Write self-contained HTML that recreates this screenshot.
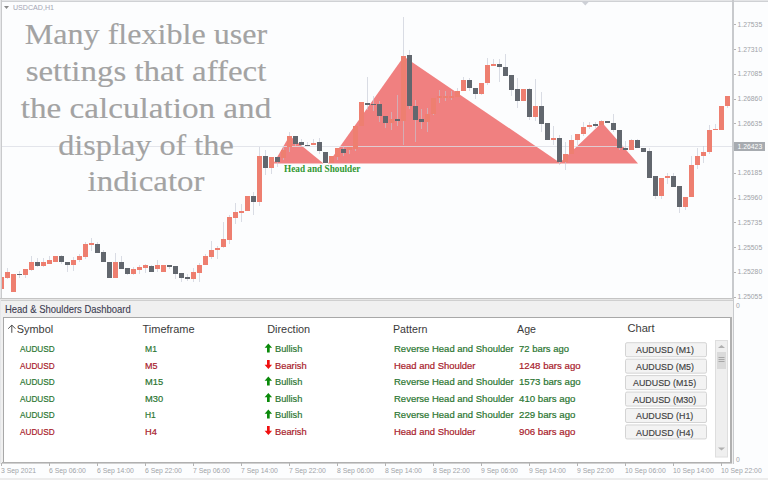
<!DOCTYPE html>
<html><head><meta charset="utf-8"><style>
*{margin:0;padding:0;box-sizing:border-box}
body{width:768px;height:480px;overflow:hidden;background:#fcfdfe;position:relative;font-family:"Liberation Sans",sans-serif}
.t{position:absolute;white-space:nowrap}
.bs{font-family:"Liberation Serif",serif !important;font-size:30px !important;line-height:30px !important;-webkit-text-stroke:0.15px #a3a3a3}
.big{left:0;width:292px;text-align:center;font-family:"Liberation Sans",sans-serif;font-size:29.5px;line-height:29.5px;color:#a3a3a3;transform:scaleX(1.017);transform-origin:146px 0}
</style></head><body>
<svg style="position:absolute;left:0;top:0" width="768" height="480">
<rect x="0" y="0" width="768" height="2" fill="#e4e5e7"/><rect x="0" y="1" width="768" height="1" fill="#cfd1d4"/>
<rect x="0" y="0" width="1" height="464" fill="#e6e7e9"/><rect x="1" y="0" width="1" height="464" fill="#c9cacc"/>
<rect x="732" y="0" width="2" height="464" fill="#c8cacd"/>
<polygon points="273.5,163.4 289.5,135.7 323.5,163.4" fill="#f08080"/>
<polygon points="328,163.4 403.8,56.5 561,163.4" fill="#f08080"/>
<polygon points="559,163.4 602,122.5 638,163.4" fill="#f08080"/>
<rect x="2" y="146" width="730" height="1" fill="#dcdfe6" opacity="0.8"/>
<rect x="2" y="277" width="2" height="12" fill="#ee7f70"/>
<rect x="7" y="268" width="1" height="11" fill="#c4c8d4" fill-opacity="0.62"/>
<rect x="5" y="272" width="5" height="6" fill="#ee7f70"/>
<rect x="13" y="274" width="1" height="18" fill="#c4c8d4" fill-opacity="0.62"/>
<rect x="11" y="274" width="5" height="18" fill="#ee7f70"/>
<rect x="19" y="271" width="1" height="7" fill="#c4c8d4" fill-opacity="0.62"/>
<rect x="17" y="274" width="5" height="1" fill="#62676e"/>
<rect x="25" y="269" width="1" height="9" fill="#c4c8d4" fill-opacity="0.62"/>
<rect x="23" y="269" width="5" height="6" fill="#ee7f70"/>
<rect x="31" y="256" width="1" height="15" fill="#c4c8d4" fill-opacity="0.62"/>
<rect x="29" y="262" width="5" height="8" fill="#ee7f70"/>
<rect x="37" y="258" width="1" height="9" fill="#c4c8d4" fill-opacity="0.62"/>
<rect x="35" y="262" width="5" height="4" fill="#62676e"/>
<rect x="43" y="258" width="1" height="9" fill="#c4c8d4" fill-opacity="0.62"/>
<rect x="41" y="262" width="5" height="4" fill="#ee7f70"/>
<rect x="49" y="256" width="1" height="8" fill="#c4c8d4" fill-opacity="0.62"/>
<rect x="47" y="260" width="5" height="4" fill="#ee7f70"/>
<rect x="55" y="256" width="1" height="6" fill="#c4c8d4" fill-opacity="0.62"/>
<rect x="53" y="256" width="5" height="6" fill="#ee7f70"/>
<rect x="61" y="255" width="1" height="9" fill="#c4c8d4" fill-opacity="0.62"/>
<rect x="59" y="256" width="5" height="6" fill="#62676e"/>
<rect x="67" y="262" width="1" height="10" fill="#c4c8d4" fill-opacity="0.62"/>
<rect x="65" y="262" width="5" height="3" fill="#62676e"/>
<rect x="73" y="257" width="1" height="14" fill="#c4c8d4" fill-opacity="0.62"/>
<rect x="71" y="260" width="5" height="5" fill="#ee7f70"/>
<rect x="79" y="254" width="1" height="8" fill="#c4c8d4" fill-opacity="0.62"/>
<rect x="77" y="256" width="5" height="4" fill="#ee7f70"/>
<rect x="85" y="242" width="1" height="17" fill="#c4c8d4" fill-opacity="0.62"/>
<rect x="83" y="244" width="5" height="13" fill="#ee7f70"/>
<rect x="91" y="238" width="1" height="13" fill="#c4c8d4" fill-opacity="0.62"/>
<rect x="89" y="243" width="5" height="2" fill="#ee7f70"/>
<rect x="97" y="242" width="1" height="11" fill="#c4c8d4" fill-opacity="0.62"/>
<rect x="95" y="244" width="5" height="9" fill="#62676e"/>
<rect x="103" y="250" width="1" height="12" fill="#c4c8d4" fill-opacity="0.62"/>
<rect x="101" y="252" width="5" height="10" fill="#62676e"/>
<rect x="109" y="262" width="1" height="16" fill="#c4c8d4" fill-opacity="0.62"/>
<rect x="107" y="262" width="5" height="16" fill="#62676e"/>
<rect x="115" y="253" width="1" height="25" fill="#c4c8d4" fill-opacity="0.62"/>
<rect x="113" y="262" width="5" height="16" fill="#ee7f70"/>
<rect x="121" y="256" width="1" height="13" fill="#c4c8d4" fill-opacity="0.62"/>
<rect x="119" y="262" width="5" height="7" fill="#62676e"/>
<rect x="127" y="268" width="1" height="7" fill="#c4c8d4" fill-opacity="0.62"/>
<rect x="125" y="268" width="5" height="6" fill="#62676e"/>
<rect x="133" y="267" width="1" height="8" fill="#c4c8d4" fill-opacity="0.62"/>
<rect x="131" y="269" width="5" height="5" fill="#ee7f70"/>
<rect x="139" y="265" width="1" height="9" fill="#c4c8d4" fill-opacity="0.62"/>
<rect x="137" y="267" width="5" height="3" fill="#ee7f70"/>
<rect x="145" y="264" width="1" height="9" fill="#c4c8d4" fill-opacity="0.62"/>
<rect x="143" y="265" width="5" height="3" fill="#ee7f70"/>
<rect x="151" y="265" width="1" height="7" fill="#c4c8d4" fill-opacity="0.62"/>
<rect x="149" y="266" width="5" height="6" fill="#62676e"/>
<rect x="157" y="260" width="1" height="12" fill="#c4c8d4" fill-opacity="0.62"/>
<rect x="155" y="265" width="5" height="4" fill="#ee7f70"/>
<rect x="163" y="265" width="1" height="7" fill="#c4c8d4" fill-opacity="0.62"/>
<rect x="161" y="265" width="5" height="7" fill="#ee7f70"/>
<rect x="169" y="265" width="1" height="4" fill="#c4c8d4" fill-opacity="0.62"/>
<rect x="167" y="265" width="5" height="2" fill="#62676e"/>
<rect x="175" y="266" width="1" height="13" fill="#c4c8d4" fill-opacity="0.62"/>
<rect x="173" y="266" width="5" height="8" fill="#62676e"/>
<rect x="181" y="273" width="1" height="9" fill="#c4c8d4" fill-opacity="0.62"/>
<rect x="179" y="273" width="5" height="5" fill="#62676e"/>
<rect x="187" y="274" width="1" height="7" fill="#c4c8d4" fill-opacity="0.62"/>
<rect x="185" y="277" width="5" height="2" fill="#62676e"/>
<rect x="193" y="268" width="1" height="14" fill="#c4c8d4" fill-opacity="0.62"/>
<rect x="191" y="272" width="5" height="7" fill="#ee7f70"/>
<rect x="199" y="263" width="1" height="19" fill="#c4c8d4" fill-opacity="0.62"/>
<rect x="197" y="265" width="5" height="8" fill="#ee7f70"/>
<rect x="205" y="254" width="1" height="11" fill="#c4c8d4" fill-opacity="0.62"/>
<rect x="203" y="256" width="5" height="9" fill="#ee7f70"/>
<rect x="211" y="241" width="1" height="18" fill="#c4c8d4" fill-opacity="0.62"/>
<rect x="209" y="250" width="5" height="7" fill="#ee7f70"/>
<rect x="217" y="246" width="1" height="13" fill="#c4c8d4" fill-opacity="0.62"/>
<rect x="215" y="248" width="5" height="2" fill="#ee7f70"/>
<rect x="223" y="222" width="1" height="26" fill="#c4c8d4" fill-opacity="0.62"/>
<rect x="221" y="239" width="5" height="8" fill="#ee7f70"/>
<rect x="229" y="215" width="1" height="29" fill="#c4c8d4" fill-opacity="0.62"/>
<rect x="227" y="217" width="5" height="23" fill="#ee7f70"/>
<rect x="235" y="203" width="1" height="21" fill="#c4c8d4" fill-opacity="0.62"/>
<rect x="233" y="212" width="5" height="6" fill="#ee7f70"/>
<rect x="241" y="204" width="1" height="18" fill="#c4c8d4" fill-opacity="0.62"/>
<rect x="239" y="211" width="5" height="2" fill="#ee7f70"/>
<rect x="247" y="196" width="1" height="15" fill="#c4c8d4" fill-opacity="0.62"/>
<rect x="245" y="196" width="5" height="15" fill="#ee7f70"/>
<rect x="253" y="192" width="1" height="23" fill="#c4c8d4" fill-opacity="0.62"/>
<rect x="251" y="196" width="5" height="6" fill="#62676e"/>
<rect x="259" y="147" width="1" height="59" fill="#c4c8d4" fill-opacity="0.62"/>
<rect x="257" y="156" width="5" height="46" fill="#ee7f70"/>
<rect x="265" y="150" width="1" height="25" fill="#c4c8d4" fill-opacity="0.62"/>
<rect x="263" y="156" width="5" height="12" fill="#62676e"/>
<rect x="271" y="157" width="1" height="17" fill="#c4c8d4" fill-opacity="0.62"/>
<rect x="269" y="157" width="5" height="11" fill="#ee7f70"/>
<rect x="277" y="157" width="1" height="10" fill="#c4c8d4" fill-opacity="0.62"/>
<rect x="275" y="157" width="5" height="5" fill="#62676e"/>
<rect x="283" y="146" width="1" height="14" fill="#c4c8d4" fill-opacity="0.62"/>
<rect x="281" y="150" width="5" height="8" fill="#ee7f70"/>
<rect x="289" y="132" width="1" height="20" fill="#c4c8d4" fill-opacity="0.62"/>
<rect x="287" y="136" width="5" height="11" fill="#ee7f70"/>
<rect x="295" y="136" width="1" height="10" fill="#c4c8d4" fill-opacity="0.62"/>
<rect x="293" y="136" width="5" height="8" fill="#62676e"/>
<rect x="301" y="139" width="1" height="8" fill="#c4c8d4" fill-opacity="0.62"/>
<rect x="299" y="142" width="5" height="3" fill="#62676e"/>
<rect x="307" y="142" width="1" height="4" fill="#c4c8d4" fill-opacity="0.62"/>
<rect x="305" y="145" width="5" height="1" fill="#62676e"/>
<rect x="313" y="139" width="1" height="6" fill="#c4c8d4" fill-opacity="0.62"/>
<rect x="311" y="143" width="5" height="2" fill="#ee7f70"/>
<rect x="319" y="138" width="1" height="16" fill="#c4c8d4" fill-opacity="0.62"/>
<rect x="317" y="142" width="5" height="9" fill="#62676e"/>
<rect x="325" y="152" width="1" height="11" fill="#c4c8d4" fill-opacity="0.62"/>
<rect x="323" y="152" width="5" height="11" fill="#62676e"/>
<rect x="331" y="156" width="1" height="7" fill="#c4c8d4" fill-opacity="0.62"/>
<rect x="329" y="156" width="5" height="7" fill="#ee7f70"/>
<rect x="337" y="148" width="1" height="12" fill="#c4c8d4" fill-opacity="0.62"/>
<rect x="335" y="148" width="5" height="9" fill="#ee7f70"/>
<rect x="343" y="146" width="1" height="10" fill="#c4c8d4" fill-opacity="0.62"/>
<rect x="341" y="149" width="5" height="4" fill="#62676e"/>
<rect x="349" y="147" width="1" height="7" fill="#c4c8d4" fill-opacity="0.62"/>
<rect x="347" y="147" width="5" height="3" fill="#ee7f70"/>
<rect x="355" y="126" width="1" height="25" fill="#c4c8d4" fill-opacity="0.62"/>
<rect x="353" y="126" width="5" height="23" fill="#ee7f70"/>
<rect x="361" y="102" width="1" height="24" fill="#c4c8d4" fill-opacity="0.62"/>
<rect x="359" y="102" width="5" height="24" fill="#ee7f70"/>
<rect x="367" y="77" width="1" height="33" fill="#c4c8d4" fill-opacity="0.62"/>
<rect x="365" y="103" width="5" height="2" fill="#62676e"/>
<rect x="373" y="96" width="1" height="15" fill="#c4c8d4" fill-opacity="0.62"/>
<rect x="371" y="104" width="5" height="1" fill="#62676e"/>
<rect x="379" y="101" width="1" height="21" fill="#c4c8d4" fill-opacity="0.62"/>
<rect x="377" y="104" width="5" height="12" fill="#62676e"/>
<rect x="385" y="116" width="1" height="12" fill="#c4c8d4" fill-opacity="0.62"/>
<rect x="383" y="116" width="5" height="7" fill="#62676e"/>
<rect x="391" y="112" width="1" height="18" fill="#c4c8d4" fill-opacity="0.62"/>
<rect x="389" y="119" width="5" height="4" fill="#ee7f70"/>
<rect x="397" y="95" width="1" height="31" fill="#c4c8d4" fill-opacity="0.62"/>
<rect x="395" y="119" width="5" height="2" fill="#62676e"/>
<rect x="403" y="17" width="1" height="128" fill="#c4c8d4" fill-opacity="0.62"/>
<rect x="401" y="56" width="5" height="65" fill="#ee7f70"/>
<rect x="409" y="50" width="1" height="59" fill="#c4c8d4" fill-opacity="0.62"/>
<rect x="407" y="55" width="5" height="51" fill="#62676e"/>
<rect x="415" y="100" width="1" height="42" fill="#c4c8d4" fill-opacity="0.62"/>
<rect x="413" y="106" width="5" height="14" fill="#62676e"/>
<rect x="421" y="109" width="1" height="20" fill="#c4c8d4" fill-opacity="0.62"/>
<rect x="419" y="119" width="5" height="3" fill="#62676e"/>
<rect x="427" y="108" width="1" height="24" fill="#c4c8d4" fill-opacity="0.62"/>
<rect x="425" y="114" width="5" height="8" fill="#ee7f70"/>
<rect x="433" y="98" width="1" height="17" fill="#c4c8d4" fill-opacity="0.62"/>
<rect x="431" y="98" width="5" height="16" fill="#ee7f70"/>
<rect x="439" y="90" width="1" height="13" fill="#c4c8d4" fill-opacity="0.62"/>
<rect x="437" y="96" width="5" height="2" fill="#ee7f70"/>
<rect x="445" y="91" width="1" height="10" fill="#c4c8d4" fill-opacity="0.62"/>
<rect x="443" y="96" width="5" height="2" fill="#ee7f70"/>
<rect x="451" y="91" width="1" height="9" fill="#c4c8d4" fill-opacity="0.62"/>
<rect x="449" y="96" width="5" height="2" fill="#ee7f70"/>
<rect x="457" y="88" width="1" height="9" fill="#c4c8d4" fill-opacity="0.62"/>
<rect x="455" y="91" width="5" height="6" fill="#ee7f70"/>
<rect x="463" y="77" width="1" height="14" fill="#c4c8d4" fill-opacity="0.62"/>
<rect x="461" y="80" width="5" height="11" fill="#ee7f70"/>
<rect x="469" y="78" width="1" height="13" fill="#c4c8d4" fill-opacity="0.62"/>
<rect x="467" y="80" width="5" height="8" fill="#62676e"/>
<rect x="475" y="88" width="1" height="11" fill="#c4c8d4" fill-opacity="0.62"/>
<rect x="473" y="88" width="5" height="6" fill="#62676e"/>
<rect x="481" y="83" width="1" height="12" fill="#c4c8d4" fill-opacity="0.62"/>
<rect x="479" y="83" width="5" height="11" fill="#ee7f70"/>
<rect x="487" y="58" width="1" height="27" fill="#c4c8d4" fill-opacity="0.62"/>
<rect x="485" y="65" width="5" height="18" fill="#ee7f70"/>
<rect x="493" y="59" width="1" height="7" fill="#c4c8d4" fill-opacity="0.62"/>
<rect x="491" y="64" width="5" height="2" fill="#ee7f70"/>
<rect x="499" y="59" width="1" height="23" fill="#c4c8d4" fill-opacity="0.62"/>
<rect x="497" y="64" width="5" height="3" fill="#62676e"/>
<rect x="505" y="54" width="1" height="22" fill="#c4c8d4" fill-opacity="0.62"/>
<rect x="503" y="67" width="5" height="9" fill="#62676e"/>
<rect x="511" y="75" width="1" height="21" fill="#c4c8d4" fill-opacity="0.62"/>
<rect x="509" y="75" width="5" height="15" fill="#62676e"/>
<rect x="517" y="78" width="1" height="30" fill="#c4c8d4" fill-opacity="0.62"/>
<rect x="515" y="89" width="5" height="12" fill="#62676e"/>
<rect x="523" y="89" width="1" height="12" fill="#c4c8d4" fill-opacity="0.62"/>
<rect x="521" y="89" width="5" height="12" fill="#ee7f70"/>
<rect x="529" y="88" width="1" height="32" fill="#c4c8d4" fill-opacity="0.62"/>
<rect x="527" y="89" width="5" height="28" fill="#62676e"/>
<rect x="535" y="79" width="1" height="42" fill="#c4c8d4" fill-opacity="0.62"/>
<rect x="533" y="106" width="5" height="11" fill="#ee7f70"/>
<rect x="541" y="92" width="1" height="40" fill="#c4c8d4" fill-opacity="0.62"/>
<rect x="539" y="106" width="5" height="18" fill="#62676e"/>
<rect x="547" y="123" width="1" height="17" fill="#c4c8d4" fill-opacity="0.62"/>
<rect x="545" y="123" width="5" height="17" fill="#62676e"/>
<rect x="553" y="126" width="1" height="19" fill="#c4c8d4" fill-opacity="0.62"/>
<rect x="551" y="138" width="5" height="2" fill="#ee7f70"/>
<rect x="559" y="135" width="1" height="30" fill="#c4c8d4" fill-opacity="0.62"/>
<rect x="557" y="138" width="5" height="24" fill="#62676e"/>
<rect x="565" y="142" width="1" height="28" fill="#c4c8d4" fill-opacity="0.62"/>
<rect x="563" y="154" width="5" height="8" fill="#ee7f70"/>
<rect x="571" y="135" width="1" height="19" fill="#c4c8d4" fill-opacity="0.62"/>
<rect x="569" y="140" width="5" height="14" fill="#ee7f70"/>
<rect x="577" y="134" width="1" height="11" fill="#c4c8d4" fill-opacity="0.62"/>
<rect x="575" y="134" width="5" height="6" fill="#ee7f70"/>
<rect x="583" y="122" width="1" height="14" fill="#c4c8d4" fill-opacity="0.62"/>
<rect x="581" y="127" width="5" height="7" fill="#ee7f70"/>
<rect x="589" y="122" width="1" height="7" fill="#c4c8d4" fill-opacity="0.62"/>
<rect x="587" y="125" width="5" height="2" fill="#ee7f70"/>
<rect x="595" y="122" width="1" height="6" fill="#c4c8d4" fill-opacity="0.62"/>
<rect x="593" y="124" width="5" height="2" fill="#62676e"/>
<rect x="601" y="120" width="1" height="5" fill="#c4c8d4" fill-opacity="0.62"/>
<rect x="599" y="121" width="5" height="4" fill="#ee7f70"/>
<rect x="607" y="121" width="1" height="2" fill="#c4c8d4" fill-opacity="0.62"/>
<rect x="605" y="121" width="5" height="2" fill="#62676e"/>
<rect x="613" y="114" width="1" height="18" fill="#c4c8d4" fill-opacity="0.62"/>
<rect x="611" y="123" width="5" height="7" fill="#62676e"/>
<rect x="619" y="130" width="1" height="20" fill="#c4c8d4" fill-opacity="0.62"/>
<rect x="617" y="130" width="5" height="18" fill="#62676e"/>
<rect x="625" y="141" width="1" height="9" fill="#c4c8d4" fill-opacity="0.62"/>
<rect x="623" y="148" width="5" height="2" fill="#62676e"/>
<rect x="631" y="139" width="1" height="11" fill="#c4c8d4" fill-opacity="0.62"/>
<rect x="629" y="140" width="5" height="10" fill="#ee7f70"/>
<rect x="637" y="139" width="1" height="9" fill="#c4c8d4" fill-opacity="0.62"/>
<rect x="635" y="140" width="5" height="8" fill="#62676e"/>
<rect x="643" y="148" width="1" height="4" fill="#c4c8d4" fill-opacity="0.62"/>
<rect x="641" y="148" width="5" height="4" fill="#62676e"/>
<rect x="649" y="148" width="1" height="30" fill="#c4c8d4" fill-opacity="0.62"/>
<rect x="647" y="151" width="5" height="27" fill="#62676e"/>
<rect x="655" y="176" width="1" height="23" fill="#c4c8d4" fill-opacity="0.62"/>
<rect x="653" y="176" width="5" height="20" fill="#62676e"/>
<rect x="661" y="178" width="1" height="21" fill="#c4c8d4" fill-opacity="0.62"/>
<rect x="659" y="178" width="5" height="18" fill="#ee7f70"/>
<rect x="667" y="173" width="1" height="11" fill="#c4c8d4" fill-opacity="0.62"/>
<rect x="665" y="176" width="5" height="2" fill="#ee7f70"/>
<rect x="673" y="173" width="1" height="14" fill="#c4c8d4" fill-opacity="0.62"/>
<rect x="671" y="176" width="5" height="11" fill="#62676e"/>
<rect x="679" y="186" width="1" height="27" fill="#c4c8d4" fill-opacity="0.62"/>
<rect x="677" y="186" width="5" height="21" fill="#62676e"/>
<rect x="685" y="197" width="1" height="13" fill="#c4c8d4" fill-opacity="0.62"/>
<rect x="683" y="197" width="5" height="10" fill="#ee7f70"/>
<rect x="691" y="156" width="1" height="41" fill="#c4c8d4" fill-opacity="0.62"/>
<rect x="689" y="165" width="5" height="32" fill="#ee7f70"/>
<rect x="697" y="148" width="1" height="21" fill="#c4c8d4" fill-opacity="0.62"/>
<rect x="695" y="156" width="5" height="9" fill="#ee7f70"/>
<rect x="703" y="146" width="1" height="17" fill="#c4c8d4" fill-opacity="0.62"/>
<rect x="701" y="152" width="5" height="4" fill="#ee7f70"/>
<rect x="709" y="125" width="1" height="29" fill="#c4c8d4" fill-opacity="0.62"/>
<rect x="707" y="130" width="5" height="22" fill="#ee7f70"/>
<rect x="715" y="124" width="1" height="6" fill="#c4c8d4" fill-opacity="0.62"/>
<rect x="713" y="129" width="5" height="1" fill="#ee7f70"/>
<rect x="721" y="106" width="1" height="24" fill="#c4c8d4" fill-opacity="0.62"/>
<rect x="719" y="106" width="5" height="24" fill="#ee7f70"/>
<rect x="727" y="96" width="1" height="12" fill="#c4c8d4" fill-opacity="0.62"/>
<rect x="725" y="96" width="5" height="10" fill="#ee7f70"/>
<rect x="1" y="299" width="732" height="165" fill="#f0f0f0"/>
<rect x="0" y="298" width="734" height="1" fill="#c4c4c4"/>
<rect x="1" y="299" width="732" height="1" fill="#e6e6e6"/>
<rect x="1" y="300" width="732" height="1" fill="#cfcfcf"/>
<rect x="3.5" y="317.5" width="728" height="145" fill="#ffffff" stroke="#a8a8a8"/>
<rect x="730" y="317" width="2" height="146" fill="#b0b0b0"/>
<rect x="2" y="462" width="730" height="1.5" fill="#b0b0b0"/>
<rect x="715.5" y="340.5" width="12" height="116.5" fill="#efefef" stroke="#dedede"/>
<rect x="717" y="352" width="9" height="17" fill="#dadada"/>
<rect x="718.5" y="357" width="6" height="1" fill="#a8a8a8"/><rect x="718.5" y="359" width="6" height="1" fill="#a8a8a8"/><rect x="718.5" y="361" width="6" height="1" fill="#a8a8a8"/>
<polygon points="718,348 725,348 721.5,345" fill="#b0b0b0"/>
<polygon points="718,447.5 725,447.5 721.5,450.5" fill="#b0b0b0"/>
<polygon points="581.5,1.5 589,1.5 585.25,5.5" fill="#cdd0d6"/>
<polygon points="4,6 9,6 6.5,9" fill="#888"/>
<rect x="625.5" y="342.70" width="81" height="14" rx="1.5" fill="#f3f3f3" stroke="#d4d4d4" stroke-width="1"/><rect x="625.5" y="359.15" width="81" height="14" rx="1.5" fill="#f3f3f3" stroke="#d4d4d4" stroke-width="1"/><rect x="625.5" y="375.60" width="81" height="14" rx="1.5" fill="#f3f3f3" stroke="#d4d4d4" stroke-width="1"/><rect x="625.5" y="392.05" width="81" height="14" rx="1.5" fill="#f3f3f3" stroke="#d4d4d4" stroke-width="1"/><rect x="625.5" y="408.50" width="81" height="14" rx="1.5" fill="#f3f3f3" stroke="#d4d4d4" stroke-width="1"/><rect x="625.5" y="424.95" width="81" height="14" rx="1.5" fill="#f3f3f3" stroke="#d4d4d4" stroke-width="1"/>
<path transform="translate(264.6,343.50)" d="M3.75 0 L7.5 4.2 L5.1 4.2 L5.1 9 L2.4 9 L2.4 4.2 L0 4.2Z" fill="#0a8a0a"/><path transform="translate(264.6,360.00)" d="M3.75 9 L7.5 4.8 L5.1 4.8 L5.1 0 L2.4 0 L2.4 4.8 L0 4.8Z" fill="#f01010"/><path transform="translate(264.6,376.50)" d="M3.75 0 L7.5 4.2 L5.1 4.2 L5.1 9 L2.4 9 L2.4 4.2 L0 4.2Z" fill="#0a8a0a"/><path transform="translate(264.6,393.00)" d="M3.75 0 L7.5 4.2 L5.1 4.2 L5.1 9 L2.4 9 L2.4 4.2 L0 4.2Z" fill="#0a8a0a"/><path transform="translate(264.6,409.50)" d="M3.75 0 L7.5 4.2 L5.1 4.2 L5.1 9 L2.4 9 L2.4 4.2 L0 4.2Z" fill="#0a8a0a"/><path transform="translate(264.6,426.00)" d="M3.75 9 L7.5 4.8 L5.1 4.8 L5.1 0 L2.4 0 L2.4 4.8 L0 4.8Z" fill="#f01010"/>
<path transform="translate(8.2,324.8)" d="M3.6 0.3 L7.2 3.9 M3.6 0.3 L0 3.9 M3.6 0.3 L3.6 8" stroke="#3a3a3a" stroke-width="0.9" fill="none"/>
<rect x="734" y="24" width="2" height="1" fill="#b4b4b4"/><rect x="734" y="49" width="2" height="1" fill="#b4b4b4"/><rect x="734" y="74" width="2" height="1" fill="#b4b4b4"/><rect x="734" y="99" width="2" height="1" fill="#b4b4b4"/><rect x="734" y="123" width="2" height="1" fill="#b4b4b4"/><rect x="734" y="173" width="2" height="1" fill="#b4b4b4"/><rect x="734" y="198" width="2" height="1" fill="#b4b4b4"/><rect x="734" y="222" width="2" height="1" fill="#b4b4b4"/><rect x="734" y="247" width="2" height="1" fill="#b4b4b4"/><rect x="734" y="272" width="2" height="1" fill="#b4b4b4"/><rect x="734" y="297" width="2" height="1" fill="#b4b4b4"/>
<rect x="1" y="463" width="1" height="3" fill="#b4b4b4"/><rect x="49" y="463" width="1" height="3" fill="#b4b4b4"/><rect x="97" y="463" width="1" height="3" fill="#b4b4b4"/><rect x="145" y="463" width="1" height="3" fill="#b4b4b4"/><rect x="193" y="463" width="1" height="3" fill="#b4b4b4"/><rect x="241" y="463" width="1" height="3" fill="#b4b4b4"/><rect x="289" y="463" width="1" height="3" fill="#b4b4b4"/><rect x="337" y="463" width="1" height="3" fill="#b4b4b4"/><rect x="385" y="463" width="1" height="3" fill="#b4b4b4"/><rect x="433" y="463" width="1" height="3" fill="#b4b4b4"/><rect x="481" y="463" width="1" height="3" fill="#b4b4b4"/><rect x="529" y="463" width="1" height="3" fill="#b4b4b4"/><rect x="577" y="463" width="1" height="3" fill="#b4b4b4"/><rect x="625" y="463" width="1" height="3" fill="#b4b4b4"/><rect x="673" y="463" width="1" height="3" fill="#b4b4b4"/><rect x="721" y="463" width="1" height="3" fill="#b4b4b4"/>
<rect x="734" y="142" width="31" height="9" fill="#a7abb0"/>
<rect x="0" y="478" width="768" height="2" fill="#ececec"/>
</svg>
<div class="t" style="left:737.60px;top:21.84px;font-size:6.8px;line-height:6.8px;color:#a0a3a8;font-family:'Liberation Sans';font-weight:normal;">1.27535</div>
<div class="t" style="left:737.60px;top:46.58px;font-size:6.8px;line-height:6.8px;color:#a0a3a8;font-family:'Liberation Sans';font-weight:normal;">1.27310</div>
<div class="t" style="left:737.60px;top:71.32px;font-size:6.8px;line-height:6.8px;color:#a0a3a8;font-family:'Liberation Sans';font-weight:normal;">1.27085</div>
<div class="t" style="left:737.60px;top:96.06px;font-size:6.8px;line-height:6.8px;color:#a0a3a8;font-family:'Liberation Sans';font-weight:normal;">1.26860</div>
<div class="t" style="left:737.60px;top:120.80px;font-size:6.8px;line-height:6.8px;color:#a0a3a8;font-family:'Liberation Sans';font-weight:normal;">1.26635</div>
<div class="t" style="left:737.60px;top:170.28px;font-size:6.8px;line-height:6.8px;color:#a0a3a8;font-family:'Liberation Sans';font-weight:normal;">1.26185</div>
<div class="t" style="left:737.60px;top:195.02px;font-size:6.8px;line-height:6.8px;color:#a0a3a8;font-family:'Liberation Sans';font-weight:normal;">1.25960</div>
<div class="t" style="left:737.60px;top:219.76px;font-size:6.8px;line-height:6.8px;color:#a0a3a8;font-family:'Liberation Sans';font-weight:normal;">1.25735</div>
<div class="t" style="left:737.60px;top:244.50px;font-size:6.8px;line-height:6.8px;color:#a0a3a8;font-family:'Liberation Sans';font-weight:normal;">1.25505</div>
<div class="t" style="left:737.60px;top:269.24px;font-size:6.8px;line-height:6.8px;color:#a0a3a8;font-family:'Liberation Sans';font-weight:normal;">1.25280</div>
<div class="t" style="left:737.60px;top:293.98px;font-size:6.8px;line-height:6.8px;color:#a0a3a8;font-family:'Liberation Sans';font-weight:normal;">1.25055</div>
<div class="t" style="left:1.00px;top:467.80px;font-size:6.85px;line-height:6.85px;color:#a0a3a8;font-family:'Liberation Sans';font-weight:normal;">3 Sep 2021</div>
<div class="t" style="left:49.00px;top:467.80px;font-size:6.85px;line-height:6.85px;color:#a0a3a8;font-family:'Liberation Sans';font-weight:normal;">6 Sep 06:00</div>
<div class="t" style="left:97.00px;top:467.80px;font-size:6.85px;line-height:6.85px;color:#a0a3a8;font-family:'Liberation Sans';font-weight:normal;">6 Sep 14:00</div>
<div class="t" style="left:145.00px;top:467.80px;font-size:6.85px;line-height:6.85px;color:#a0a3a8;font-family:'Liberation Sans';font-weight:normal;">6 Sep 22:00</div>
<div class="t" style="left:193.00px;top:467.80px;font-size:6.85px;line-height:6.85px;color:#a0a3a8;font-family:'Liberation Sans';font-weight:normal;">7 Sep 06:00</div>
<div class="t" style="left:241.00px;top:467.80px;font-size:6.85px;line-height:6.85px;color:#a0a3a8;font-family:'Liberation Sans';font-weight:normal;">7 Sep 14:00</div>
<div class="t" style="left:289.00px;top:467.80px;font-size:6.85px;line-height:6.85px;color:#a0a3a8;font-family:'Liberation Sans';font-weight:normal;">7 Sep 22:00</div>
<div class="t" style="left:337.00px;top:467.80px;font-size:6.85px;line-height:6.85px;color:#a0a3a8;font-family:'Liberation Sans';font-weight:normal;">8 Sep 06:00</div>
<div class="t" style="left:385.00px;top:467.80px;font-size:6.85px;line-height:6.85px;color:#a0a3a8;font-family:'Liberation Sans';font-weight:normal;">8 Sep 14:00</div>
<div class="t" style="left:433.00px;top:467.80px;font-size:6.85px;line-height:6.85px;color:#a0a3a8;font-family:'Liberation Sans';font-weight:normal;">8 Sep 22:00</div>
<div class="t" style="left:481.00px;top:467.80px;font-size:6.85px;line-height:6.85px;color:#a0a3a8;font-family:'Liberation Sans';font-weight:normal;">9 Sep 06:00</div>
<div class="t" style="left:529.00px;top:467.80px;font-size:6.85px;line-height:6.85px;color:#a0a3a8;font-family:'Liberation Sans';font-weight:normal;">9 Sep 14:00</div>
<div class="t" style="left:577.00px;top:467.80px;font-size:6.85px;line-height:6.85px;color:#a0a3a8;font-family:'Liberation Sans';font-weight:normal;">9 Sep 22:00</div>
<div class="t" style="left:625.00px;top:467.80px;font-size:6.85px;line-height:6.85px;color:#a0a3a8;font-family:'Liberation Sans';font-weight:normal;">10 Sep 06:00</div>
<div class="t" style="left:673.00px;top:467.80px;font-size:6.85px;line-height:6.85px;color:#a0a3a8;font-family:'Liberation Sans';font-weight:normal;">10 Sep 14:00</div>
<div class="t" style="left:721.00px;top:467.80px;font-size:6.85px;line-height:6.85px;color:#a0a3a8;font-family:'Liberation Sans';font-weight:normal;">10 Sep 22:00</div>
<div class="t" style="left:736.00px;top:303.24px;font-size:6.8px;line-height:6.8px;color:#a0a3a8;font-family:'Liberation Sans';font-weight:normal;">0</div>
<div class="t" style="left:736.00px;top:456.54px;font-size:6.8px;line-height:6.8px;color:#a0a3a8;font-family:'Liberation Sans';font-weight:normal;">0</div>
<div class="t" style="left:737.60px;top:144.24px;font-size:6.8px;line-height:6.8px;color:#ffffff;font-family:'Liberation Sans';font-weight:normal;">1.26423</div>
<div class="t" style="left:12.90px;top:3.97px;font-size:7.6px;line-height:7.6px;color:#a4a6b4;font-family:'Liberation Sans';font-weight:normal;transform:scaleX(0.9341);transform-origin:0 0;">USDCAD,H1</div>
<div class="t big bs" style="top:18.88px;transform:scaleX(1.0695);transform-origin:146px 0">Many flexible user</div>
<div class="t big bs" style="top:55.78px;transform:scaleX(1.0974);transform-origin:146px 0">settings that affect</div>
<div class="t big bs" style="top:92.67px;transform:scaleX(1.1057);transform-origin:146px 0">the calculation and</div>
<div class="t big bs" style="top:129.57px;transform:scaleX(1.0747);transform-origin:146px 0">display of the</div>
<div class="t big bs" style="top:166.47px;transform:scaleX(1.0953);transform-origin:146px 0">indicator</div>
<div class="t" style="left:283.60px;top:164.19px;font-size:10.4px;line-height:10.4px;color:#339933;font-family:'Liberation Serif';font-weight:bold;transform:scaleX(0.8879);transform-origin:0 0;">Head and Shoulder</div>
<div class="t" style="left:4.60px;top:303.83px;font-size:10.6px;line-height:10.6px;color:#3c3c50;font-family:'Liberation Sans';font-weight:normal;-webkit-text-stroke:0.1px currentColor;transform:scaleX(0.8931);transform-origin:0 0;">Head &amp; Shoulders Dashboard</div>
<div class="t" style="left:16.80px;top:323.56px;font-size:10.92px;line-height:10.92px;color:#3a3a3a;font-family:'Liberation Sans';font-weight:normal;">Symbol</div>
<div class="t" style="left:142.50px;top:323.50px;font-size:10.99px;line-height:10.99px;color:#3a3a3a;font-family:'Liberation Sans';font-weight:normal;">Timeframe</div>
<div class="t" style="left:267.20px;top:323.57px;font-size:10.9px;line-height:10.9px;color:#3a3a3a;font-family:'Liberation Sans';font-weight:normal;">Direction</div>
<div class="t" style="left:393.00px;top:323.77px;font-size:10.67px;line-height:10.67px;color:#3a3a3a;font-family:'Liberation Sans';font-weight:normal;">Pattern</div>
<div class="t" style="left:517.10px;top:323.81px;font-size:10.62px;line-height:10.62px;color:#3a3a3a;font-family:'Liberation Sans';font-weight:normal;">Age</div>
<div class="t" style="left:627.50px;top:323.42px;font-size:11.08px;line-height:11.08px;color:#3a3a3a;font-family:'Liberation Sans';font-weight:normal;">Chart</div>
<div class="t" style="left:20.30px;top:344.10px;font-size:9.8px;line-height:9.8px;color:#2a7530;font-family:'Liberation Sans';font-weight:normal;-webkit-text-stroke:0.2px currentColor;transform:scaleX(0.8387);transform-origin:0 0;">AUDUSD</div>
<div class="t" style="left:144.60px;top:344.10px;font-size:9.8px;line-height:9.8px;color:#2a7530;font-family:'Liberation Sans';font-weight:normal;-webkit-text-stroke:0.2px currentColor;transform:scaleX(0.8734);transform-origin:0 0;">M1</div>
<div class="t" style="left:274.60px;top:344.10px;font-size:9.8px;line-height:9.8px;color:#2a7530;font-family:'Liberation Sans';font-weight:normal;-webkit-text-stroke:0.2px currentColor;transform:scaleX(0.9455);transform-origin:0 0;">Bullish</div>
<div class="t" style="left:393.50px;top:344.10px;font-size:9.8px;line-height:9.8px;color:#2a7530;font-family:'Liberation Sans';font-weight:normal;-webkit-text-stroke:0.2px currentColor;transform:scaleX(0.9689);transform-origin:0 0;">Reverse Head and Shoulder</div>
<div class="t" style="left:518.50px;top:344.10px;font-size:9.8px;line-height:9.8px;color:#2a7530;font-family:'Liberation Sans';font-weight:normal;-webkit-text-stroke:0.2px currentColor;transform:scaleX(0.9662);transform-origin:0 0;">72 bars ago</div>
<div class="t" style="left:636.20px;top:345.37px;font-size:9.6px;line-height:9.6px;color:#404040;font-family:'Liberation Sans';font-weight:normal;-webkit-text-stroke:0.15px currentColor;transform:scaleX(0.9204);transform-origin:0 0;">AUDUSD (M1)</div>
<div class="t" style="left:20.30px;top:360.60px;font-size:9.8px;line-height:9.8px;color:#a8202a;font-family:'Liberation Sans';font-weight:normal;-webkit-text-stroke:0.2px currentColor;transform:scaleX(0.8387);transform-origin:0 0;">AUDUSD</div>
<div class="t" style="left:144.60px;top:360.60px;font-size:9.8px;line-height:9.8px;color:#a8202a;font-family:'Liberation Sans';font-weight:normal;-webkit-text-stroke:0.2px currentColor;transform:scaleX(0.9174);transform-origin:0 0;">M5</div>
<div class="t" style="left:274.60px;top:360.60px;font-size:9.8px;line-height:9.8px;color:#a8202a;font-family:'Liberation Sans';font-weight:normal;-webkit-text-stroke:0.2px currentColor;transform:scaleX(0.9528);transform-origin:0 0;">Bearish</div>
<div class="t" style="left:393.50px;top:360.60px;font-size:9.8px;line-height:9.8px;color:#a8202a;font-family:'Liberation Sans';font-weight:normal;-webkit-text-stroke:0.2px currentColor;transform:scaleX(0.9652);transform-origin:0 0;">Head and Shoulder</div>
<div class="t" style="left:518.50px;top:360.60px;font-size:9.8px;line-height:9.8px;color:#a8202a;font-family:'Liberation Sans';font-weight:normal;-webkit-text-stroke:0.2px currentColor;transform:scaleX(0.9847);transform-origin:0 0;">1248 bars ago</div>
<div class="t" style="left:636.20px;top:361.87px;font-size:9.6px;line-height:9.6px;color:#404040;font-family:'Liberation Sans';font-weight:normal;-webkit-text-stroke:0.15px currentColor;transform:scaleX(0.9204);transform-origin:0 0;">AUDUSD (M5)</div>
<div class="t" style="left:20.30px;top:377.10px;font-size:9.8px;line-height:9.8px;color:#2a7530;font-family:'Liberation Sans';font-weight:normal;-webkit-text-stroke:0.2px currentColor;transform:scaleX(0.8387);transform-origin:0 0;">AUDUSD</div>
<div class="t" style="left:144.60px;top:377.10px;font-size:9.8px;line-height:9.8px;color:#2a7530;font-family:'Liberation Sans';font-weight:normal;-webkit-text-stroke:0.2px currentColor;transform:scaleX(0.9495);transform-origin:0 0;">M15</div>
<div class="t" style="left:274.60px;top:377.10px;font-size:9.8px;line-height:9.8px;color:#2a7530;font-family:'Liberation Sans';font-weight:normal;-webkit-text-stroke:0.2px currentColor;transform:scaleX(0.9455);transform-origin:0 0;">Bullish</div>
<div class="t" style="left:393.50px;top:377.10px;font-size:9.8px;line-height:9.8px;color:#2a7530;font-family:'Liberation Sans';font-weight:normal;-webkit-text-stroke:0.2px currentColor;transform:scaleX(0.9689);transform-origin:0 0;">Reverse Head and Shoulder</div>
<div class="t" style="left:518.50px;top:377.10px;font-size:9.8px;line-height:9.8px;color:#2a7530;font-family:'Liberation Sans';font-weight:normal;-webkit-text-stroke:0.2px currentColor;transform:scaleX(0.9847);transform-origin:0 0;">1573 bars ago</div>
<div class="t" style="left:633.20px;top:378.37px;font-size:9.6px;line-height:9.6px;color:#404040;font-family:'Liberation Sans';font-weight:normal;-webkit-text-stroke:0.15px currentColor;transform:scaleX(0.9248);transform-origin:0 0;">AUDUSD (M15)</div>
<div class="t" style="left:20.30px;top:393.60px;font-size:9.8px;line-height:9.8px;color:#2a7530;font-family:'Liberation Sans';font-weight:normal;-webkit-text-stroke:0.2px currentColor;transform:scaleX(0.8387);transform-origin:0 0;">AUDUSD</div>
<div class="t" style="left:144.60px;top:393.60px;font-size:9.8px;line-height:9.8px;color:#2a7530;font-family:'Liberation Sans';font-weight:normal;-webkit-text-stroke:0.2px currentColor;transform:scaleX(0.9495);transform-origin:0 0;">M30</div>
<div class="t" style="left:274.60px;top:393.60px;font-size:9.8px;line-height:9.8px;color:#2a7530;font-family:'Liberation Sans';font-weight:normal;-webkit-text-stroke:0.2px currentColor;transform:scaleX(0.9455);transform-origin:0 0;">Bullish</div>
<div class="t" style="left:393.50px;top:393.60px;font-size:9.8px;line-height:9.8px;color:#2a7530;font-family:'Liberation Sans';font-weight:normal;-webkit-text-stroke:0.2px currentColor;transform:scaleX(0.9689);transform-origin:0 0;">Reverse Head and Shoulder</div>
<div class="t" style="left:518.50px;top:393.60px;font-size:9.8px;line-height:9.8px;color:#2a7530;font-family:'Liberation Sans';font-weight:normal;-webkit-text-stroke:0.2px currentColor;transform:scaleX(0.9877);transform-origin:0 0;">410 bars ago</div>
<div class="t" style="left:633.20px;top:394.87px;font-size:9.6px;line-height:9.6px;color:#404040;font-family:'Liberation Sans';font-weight:normal;-webkit-text-stroke:0.15px currentColor;transform:scaleX(0.9248);transform-origin:0 0;">AUDUSD (M30)</div>
<div class="t" style="left:20.30px;top:410.10px;font-size:9.8px;line-height:9.8px;color:#2a7530;font-family:'Liberation Sans';font-weight:normal;-webkit-text-stroke:0.2px currentColor;transform:scaleX(0.8387);transform-origin:0 0;">AUDUSD</div>
<div class="t" style="left:144.60px;top:410.10px;font-size:9.8px;line-height:9.8px;color:#2a7530;font-family:'Liberation Sans';font-weight:normal;-webkit-text-stroke:0.2px currentColor;transform:scaleX(0.8618);transform-origin:0 0;">H1</div>
<div class="t" style="left:274.60px;top:410.10px;font-size:9.8px;line-height:9.8px;color:#2a7530;font-family:'Liberation Sans';font-weight:normal;-webkit-text-stroke:0.2px currentColor;transform:scaleX(0.9455);transform-origin:0 0;">Bullish</div>
<div class="t" style="left:393.50px;top:410.10px;font-size:9.8px;line-height:9.8px;color:#2a7530;font-family:'Liberation Sans';font-weight:normal;-webkit-text-stroke:0.2px currentColor;transform:scaleX(0.9689);transform-origin:0 0;">Reverse Head and Shoulder</div>
<div class="t" style="left:518.50px;top:410.10px;font-size:9.8px;line-height:9.8px;color:#2a7530;font-family:'Liberation Sans';font-weight:normal;-webkit-text-stroke:0.2px currentColor;transform:scaleX(0.9877);transform-origin:0 0;">229 bars ago</div>
<div class="t" style="left:636.10px;top:411.37px;font-size:9.6px;line-height:9.6px;color:#404040;font-family:'Liberation Sans';font-weight:normal;-webkit-text-stroke:0.15px currentColor;transform:scaleX(0.9265);transform-origin:0 0;">AUDUSD (H1)</div>
<div class="t" style="left:20.30px;top:426.60px;font-size:9.8px;line-height:9.8px;color:#a8202a;font-family:'Liberation Sans';font-weight:normal;-webkit-text-stroke:0.2px currentColor;transform:scaleX(0.8387);transform-origin:0 0;">AUDUSD</div>
<div class="t" style="left:144.60px;top:426.60px;font-size:9.8px;line-height:9.8px;color:#a8202a;font-family:'Liberation Sans';font-weight:normal;-webkit-text-stroke:0.2px currentColor;transform:scaleX(0.9496);transform-origin:0 0;">H4</div>
<div class="t" style="left:274.60px;top:426.60px;font-size:9.8px;line-height:9.8px;color:#a8202a;font-family:'Liberation Sans';font-weight:normal;-webkit-text-stroke:0.2px currentColor;transform:scaleX(0.9528);transform-origin:0 0;">Bearish</div>
<div class="t" style="left:393.50px;top:426.60px;font-size:9.8px;line-height:9.8px;color:#a8202a;font-family:'Liberation Sans';font-weight:normal;-webkit-text-stroke:0.2px currentColor;transform:scaleX(0.9652);transform-origin:0 0;">Head and Shoulder</div>
<div class="t" style="left:518.50px;top:426.60px;font-size:9.8px;line-height:9.8px;color:#a8202a;font-family:'Liberation Sans';font-weight:normal;-webkit-text-stroke:0.2px currentColor;transform:scaleX(0.9877);transform-origin:0 0;">906 bars ago</div>
<div class="t" style="left:636.10px;top:427.87px;font-size:9.6px;line-height:9.6px;color:#404040;font-family:'Liberation Sans';font-weight:normal;-webkit-text-stroke:0.15px currentColor;transform:scaleX(0.9298);transform-origin:0 0;">AUDUSD (H4)</div>
</body></html>
